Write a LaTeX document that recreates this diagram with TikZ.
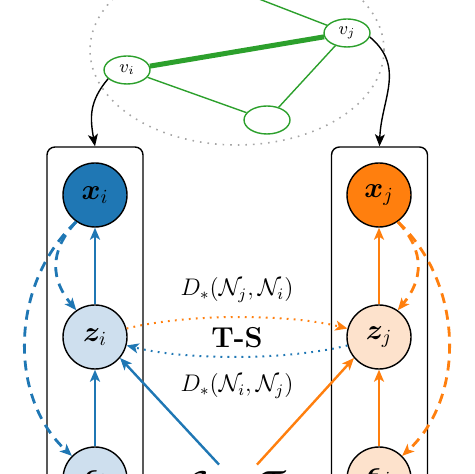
\documentclass[tikz,border=0pt]{standalone}
\usepackage{amsmath}
\usepackage{bm}
\usepackage{tikz}
\usetikzlibrary{arrows.meta, shapes.geometric}

\definecolor{tsblue}{RGB}{31,119,180}
\definecolor{tsbluelight}{RGB}{206,223,238}
\definecolor{tsorange}{RGB}{255,127,14}
\definecolor{tsorangelight}{RGB}{253,226,204}
\definecolor{tsgreen}{RGB}{44,160,44}

\begin{document}
\begin{tikzpicture}[x=0.5pt, y=0.5pt, line width=0.7pt,
  latent/.style={circle, draw=black, minimum size=32pt, inner sep=0pt, font=\Large},
  gnode/.style={ellipse, draw=tsgreen, minimum width=23pt, minimum height=14pt, inner sep=0pt, font=\small},
  plate/.style={draw=black, rounded corners=4pt, minimum width=48pt, minimum height=183.5pt},
  tip/.style={-{Stealth[length=6pt, width=5pt, inset=1.5pt]}},
  infer/.style={tip, dash pattern=on 5pt off 3.5pt, line width=1.4pt},
  dist/.style={tip, dash pattern=on 0.9pt off 2.6pt, line width=1pt}]

\useasboundingbox (0, 0) rectangle (474, 474);

% draw graph
\draw[dash pattern=on 0.8pt off 3pt, color=black!35, line width=0.8pt] (237, 424) ellipse [x radius=147, y radius=95];
\node[gnode] (vi) at (127, 404) {$v_i$};
\node[gnode] (vj) at (347, 441) {$v_j$};
\node[gnode] (vk) at (267, 354) {};
\node[gnode] (vl) at (215, 492) {};
\draw[color=tsgreen, line width=2.5pt] (vi) -- (vj);
\draw[color=tsgreen] (vi) -- (vk);
\draw[color=tsgreen] (vj) -- (vk);
\draw[color=tsgreen] (vj) -- (vl);

% draw plates
\node[plate] (platei) at (95, 143.5) {};
\node[plate] (platej) at (379.5, 143.5) {};
\draw[tip] (vi.205) to[out=230, in=100, looseness=1.1] (platei.north);
\draw[tip] (vj.-10) to[out=-40, in=88, looseness=1.1] (platej.north);

% draw latent nodes
\node[latent, fill=tsblue] (xi) at (95, 279) {$\bm{x}_i$};
\node[latent, fill=tsbluelight] (zi) at (95, 137) {$\bm{z}_i$};
\node[latent, fill=tsbluelight] (ei) at (95, -5) {$\bm{\epsilon}_i$};
\node[latent, fill=tsorange] (xj) at (379, 279) {$\bm{x}_j$};
\node[latent, fill=tsorangelight] (zj) at (379, 137) {$\bm{z}_j$};
\node[latent, fill=tsorangelight] (ej) at (379, -5) {$\bm{\epsilon}_j$};

% draw generative arrows
\draw[tip, color=tsblue, line width=1.2pt] (zi) -- (xi);
\draw[tip, color=tsblue, line width=1.2pt] (ei) -- (zi);
\draw[tip, color=tsorange, line width=1.2pt] (zj) -- (xj);
\draw[tip, color=tsorange, line width=1.2pt] (ej) -- (zj);

% draw inference arrows
\draw[infer, color=tsblue] (xi.235) .. controls +(-28, -30) and +(-25, 30) .. (zi.125);
\draw[infer, color=tsblue] (xi.235) .. controls +(-65, -60) and +(-65, 60) .. (ei.135);
\draw[infer, color=tsorange] (xj.-55) .. controls +(28, -30) and +(25, 30) .. (zj.55);
\draw[infer, color=tsorange] (xj.-55) .. controls +(65, -60) and +(65, 60) .. (ej.45);

% draw teacher-student distances
\draw[dist, color=tsorange] (zi.15) .. controls +(60, 15) and +(-60, 15) .. (zj.165);
\draw[dist, color=tsblue] (zj.195) .. controls +(-60, -15) and +(60, -15) .. (zi.-15);
\node[font=\large] (dji) at (237, 184) {$D_*(\mathcal{N}_j, \mathcal{N}_i)$};
\node[font=\Large\bfseries] (ts) at (237, 136) {T-S};
\node[font=\large] (dij) at (237, 88) {$D_*(\mathcal{N}_i, \mathcal{N}_j)$};

% draw shared noise
\node[font=\Large] (noise) at (237, -10) {$\bm{\mathcal{E}_i \sim \mathcal{T}}$};
\draw[tip, color=tsblue, line width=1.2pt] ([xshift=-9pt]noise.north) -- (zi.-40);
\draw[tip, color=tsorange, line width=1.2pt] ([xshift=10pt]noise.north) -- (zj.220);

\end{tikzpicture}
\end{document}
